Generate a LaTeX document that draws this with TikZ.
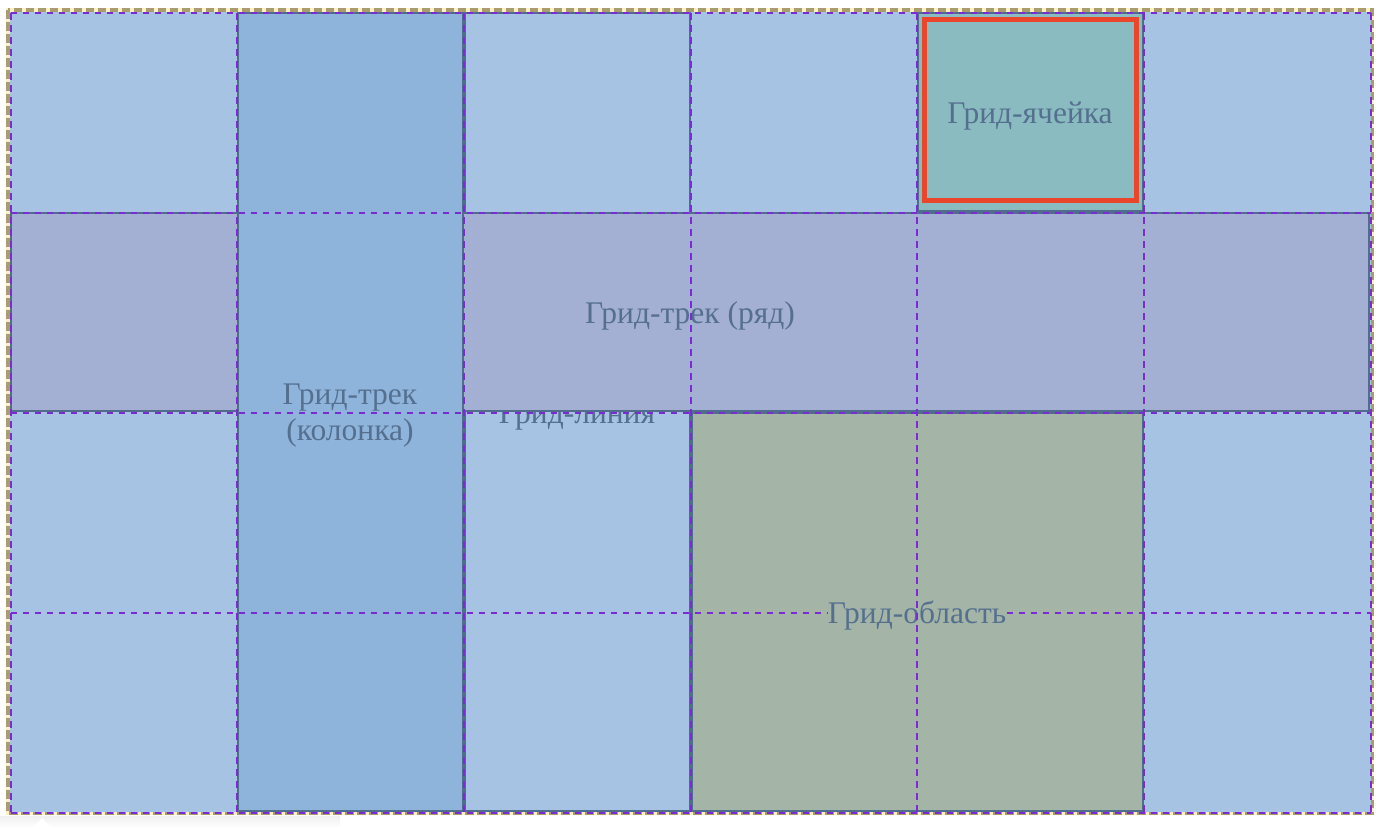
\documentclass[tikz,border=0pt]{standalone}
\usepackage{fontspec}
\setmainfont{Liberation Serif}
\definecolor{cellblue}{HTML}{A7C3E3}
\definecolor{coltrack}{HTML}{8FB4DC}
\definecolor{rowtrack}{HTML}{A3AFD3}
\definecolor{cellteal}{HTML}{8ABBC1}
\definecolor{areagreen}{HTML}{A4B4A7}
\definecolor{slate}{HTML}{516D8C}
\definecolor{gridpurple}{HTML}{7A2BD4}
\definecolor{cellred}{HTML}{E9462B}
\definecolor{khaki}{HTML}{A99D70}
\definecolor{cream}{HTML}{FDF0C4}
\definecolor{labelcol}{HTML}{55708F}
\tikzset{
  itembox/.style={draw=slate, line width=2pt},
  gridline/.style={draw=gridpurple, line width=2pt, dash pattern=on 6.5pt off 5.5pt},
  lbl/.style={text=labelcol, font=\fontsize{31.5}{36}\selectfont, inner sep=0pt, anchor=base},
}
\begin{document}
\begin{tikzpicture}[x=1pt,y=-1pt]
\useasboundingbox (0,0) rectangle (1388,828);
% faint shadow below
\shade[top color=black!6, bottom color=white] (0,816) rectangle (340,828);
\fill[white] (32,828) -- (42,818) -- (52,828) -- cycle;
% outer border
\draw[cream, line width=4pt] (8,10) rectangle (1372,813);
\draw[khaki, line width=4pt, dash pattern=on 8.5pt off 3.5pt] (8,10) rectangle (1372,813);
% grid background
\fill[cellblue] (10,12) rectangle (1371,812);
% column 3 item (grid line label)
\fill[cellblue] (463.5,12) rectangle (690.5,812);
\draw[itembox] (464.5,13) rectangle (689.5,811);
\node[lbl] (linia) at (577,423) {Грид-линия};
% grid area
\fill[areagreen] (690.5,412) rectangle (1144,812);
\draw[itembox] (691.5,413) rectangle (1143,811);
% grid cell
\fill[cellteal] (917,12) rectangle (1144,212);
\draw[itembox] (918,13) rectangle (1143,211);
\draw[cellred, line width=5pt] (924,19.2) rectangle (1136.5,200.8);
\node[lbl] (yacheyka) at (1030,123) {Грид-ячейка};
% row track
\fill[rowtrack] (10,212) rectangle (1370,412);
\draw[itembox] (11,213) rectangle (1369,411);
\node[lbl] (ryad) at (690,323) {Грид-трек (ряд)};
% column track
\fill[coltrack] (237,12) rectangle (463.5,812);
\draw[itembox] (238,13) rectangle (462.5,811);
\node[lbl] (kolonka1) at (350,404) {Грид-трек};
\node[lbl] (kolonka2) at (350,440) {(колонка)};
% horizontal grid lines
\coordinate (h0a) at (10.5,13);   \coordinate (h0b) at (1370.5,13);
\coordinate (h1a) at (10.5,212.5); \coordinate (h1b) at (1370.5,212.5);
\coordinate (h2a) at (10.5,412.5); \coordinate (h2b) at (1370.5,412.5);
\coordinate (h3a) at (10.5,612.5); \coordinate (h3b) at (1370.5,612.5);
\coordinate (h4a) at (10.5,812.5); \coordinate (h4b) at (1370.5,812.5);
\draw[gridline] (h0a) -- (h0b);
\draw[gridline] (h1a) -- (h1b);
\draw[gridline] (h2a) -- (h2b);
\draw[gridline] (h3a) -- (h3b);
\draw[gridline] (h4a) -- (h4b);
% area label hides the horizontal line
\node[lbl, fill=areagreen] (oblast) at (917,623) {Грид-область};
% vertical grid lines
\foreach \x in {10.5,237.2,463.9,690.6,917.3,1144,1370.7}{
  \draw[gridline] (\x,13) -- (\x,812.5);
}
\end{tikzpicture}
\end{document}
